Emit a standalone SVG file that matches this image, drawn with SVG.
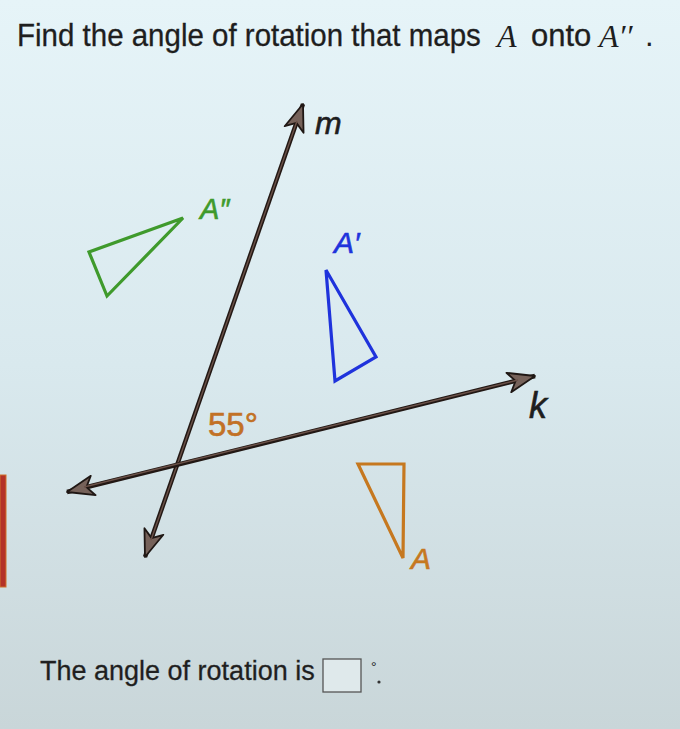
<svg xmlns="http://www.w3.org/2000/svg" width="680" height="729" viewBox="0 0 680 729">
<defs>
<linearGradient id="bg" x1="0" y1="0" x2="0" y2="1">
<stop offset="0" stop-color="#e6f4f8"/>
<stop offset="0.5" stop-color="#d9e9ee"/>
<stop offset="1" stop-color="#c9d6d9"/>
</linearGradient>
<marker id="arr" viewBox="-30 -12 32 24" refX="0" refY="0" markerWidth="32" markerHeight="24" markerUnits="userSpaceOnUse" orient="auto-start-reverse">
<path d="M0,0 L-27,-10 L-20,0 L-27,10 Z" fill="#76625a" stroke="#1f1714" stroke-width="1.8" stroke-linejoin="round"/>
</marker>
<style>
.q{font-family:"Liberation Sans",Arial,sans-serif;fill:#1e1e1e}
.it{font-family:"Liberation Serif","Times New Roman",serif;font-style:italic;fill:#1e1e1e}
.lbl{font-family:"Liberation Sans",Arial,sans-serif;font-style:italic;stroke-width:0.6}
.ln{fill:none;stroke:#221814;stroke-width:4.4}
.lnin{fill:none;stroke:#6b5148;stroke-width:1.4}
.tri{fill:none;stroke-width:3.2;stroke-linejoin:miter}
</style>
</defs>
<rect width="680" height="729" fill="url(#bg)"/>
<rect x="0" y="475" width="6" height="112" fill="#b43228" stroke="#d0702a" stroke-width="1"/>

<g id="title">
<text class="q" transform="translate(17,46) scale(0.951,1)" x="0" y="0" font-size="31" stroke="#1e1e1e" stroke-width="0.3">Find the angle of rotation that maps</text>
<text class="it" x="497" y="47" font-size="32">A</text>
<text class="q" x="531" y="46" font-size="31" stroke="#1e1e1e" stroke-width="0.3">onto</text>
<text class="it" x="599" y="47" font-size="32">A′′</text>
<text class="q" x="645" y="46" font-size="31">.</text>
</g>

<g id="connectors">
<line class="ln" x1="145" y1="557" x2="303" y2="104" marker-start="url(#arr)" marker-end="url(#arr)"/>
<line class="lnin" x1="151" y1="540" x2="297" y2="121"/>
<line class="ln" x1="67" y1="492" x2="535" y2="376" marker-start="url(#arr)" marker-end="url(#arr)"/>
<line class="lnin" x1="84" y1="487" x2="518" y2="380"/>
</g>

<g id="line-m-label">
<text class="lbl" x="315" y="134" font-size="32" fill="#1e1e1e" stroke="#1e1e1e">m</text>
</g>
<g id="line-k-label">
<text class="lbl" x="529" y="418" font-size="36" fill="#1e1e1e" stroke="#1e1e1e">k</text>
</g>
<g id="angle-label">
<text class="lbl" x="208" y="436" font-size="33" fill="#c27126" stroke="#c27126" style="font-style:normal">55°</text>
</g>

<g id="A-double-prime">
<polygon class="tri" points="183,218 89,252 107,296" stroke="#3f9a2c"/>
<text class="lbl" x="200" y="219" font-size="29" fill="#3f9a2c" stroke="#3f9a2c">A″</text>
</g>

<g id="A-prime">
<polygon class="tri" points="326,270 376,357 335,381" stroke="#1f33dc"/>
<text class="lbl" x="334" y="253" font-size="30" fill="#1f33dc" stroke="#1f33dc">A′</text>
</g>

<g id="A">
<polygon class="tri" points="358,464 404,464 403,558" stroke="#c6781f"/>
<text class="lbl" x="411" y="569" font-size="30" fill="#c6781f" stroke="#c6781f">A</text>
</g>

<g id="answer">
<text class="q" x="40" y="680" font-size="27" fill="#2a2a2a" stroke="#2a2a2a" stroke-width="0.3">The angle of rotation is</text>
<rect x="323" y="659" width="38" height="33" fill="#dfe9eb" stroke="#555" stroke-width="1.3"/>
<text class="q" x="371" y="672" font-size="14">°</text>
<circle cx="379" cy="682" r="1.6" fill="#333"/>
</g>
</svg>
